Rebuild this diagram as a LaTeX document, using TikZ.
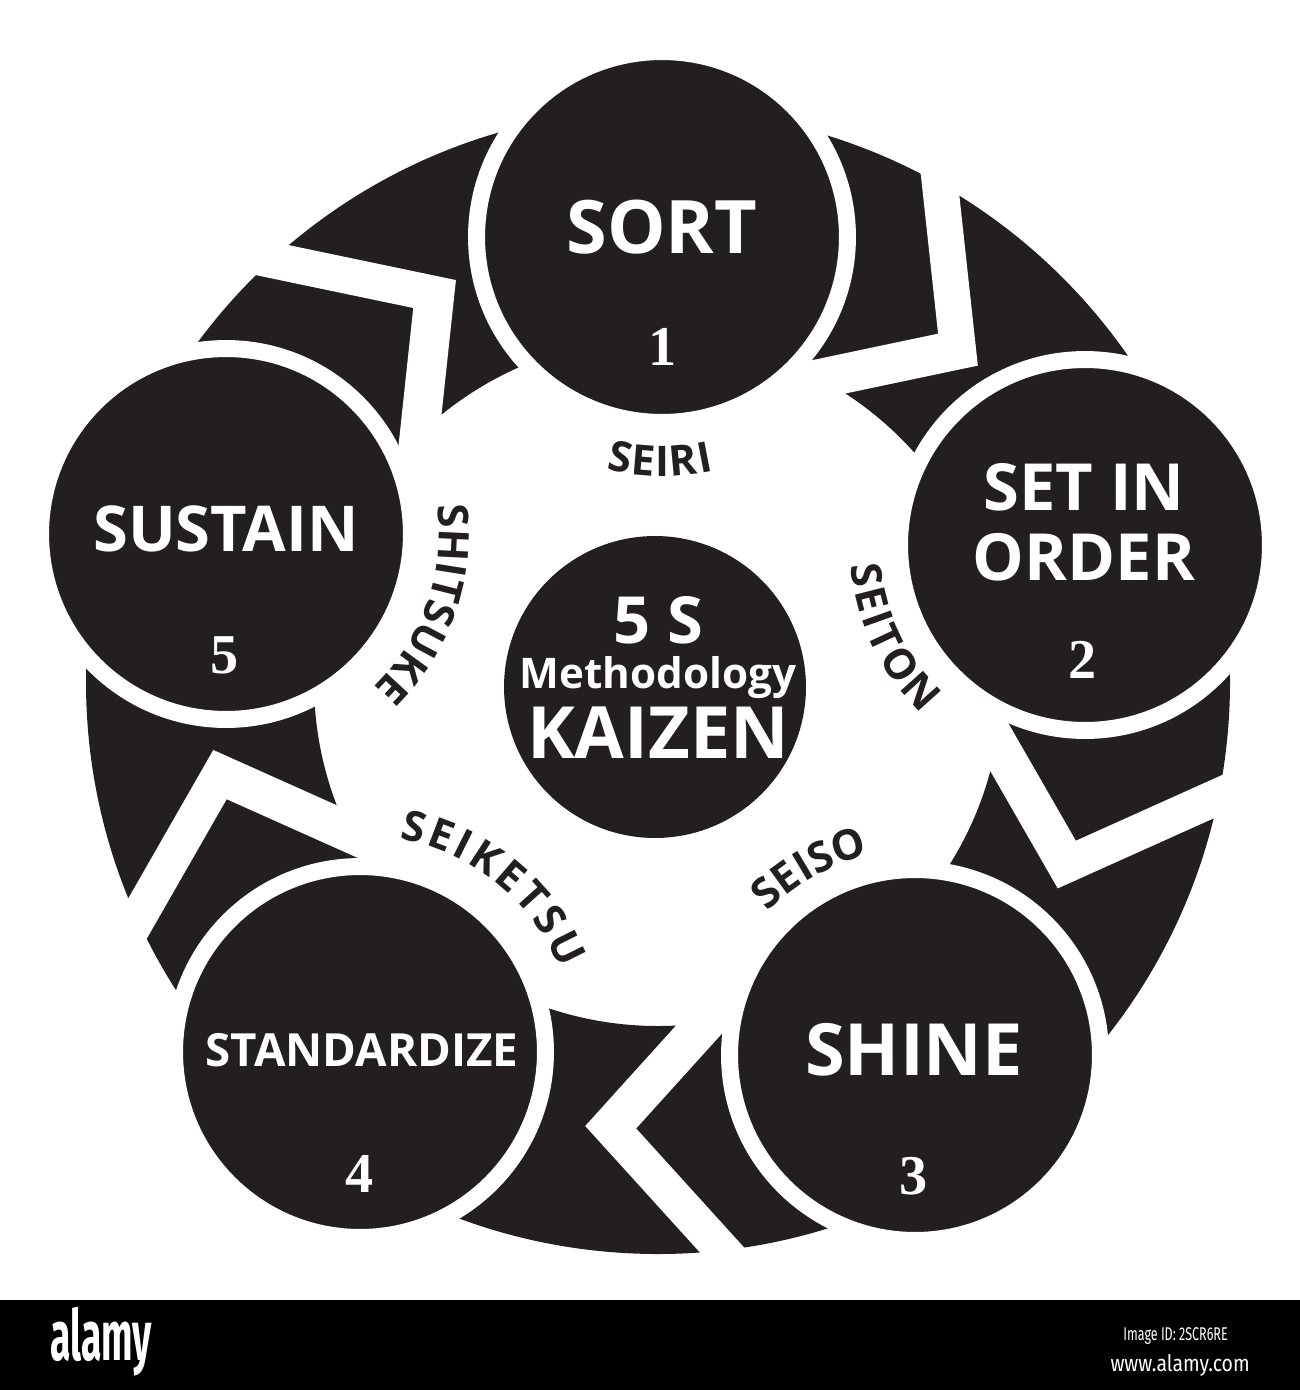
\documentclass[tikz,border=0pt]{standalone}
\usepackage{fontspec}
\usetikzlibrary{decorations.text}
\newfontfamily\osans{Open Sans}
\newfontfamily\lserif{Liberation Serif}
\newfontfamily\fira{Fira Sans}
\definecolor{ink}{HTML}{231F20}
\newcommand\labfont{\osans\bfseries\fontsize{24}{24}\selectfont}
\begin{document}
\begin{tikzpicture}[x=0.02cm,y=0.02cm,
  stage/.style={circle, fill=ink, draw=white, line width=0.34cm, minimum size=7.42cm, inner sep=0pt},
  hubstyle/.style={circle, fill=ink, minimum size=6.04cm, inner sep=0pt},
  ttl/.style={text=white, inner sep=0pt, anchor=base},
  num/.style={text=white, font=\lserif\bfseries\fontsize{32}{32}\selectfont, inner sep=0pt, anchor=base},
  gap/.style={fill=white},
  arclabel/.style={decorate, decoration={text along path, text={|\labfont|#1}, text align={fit to path}, text color=ink}}
]
\useasboundingbox (0,0) rectangle (1300,-1390);
\fill[white] (0,0) rectangle (1300,-1390);

% ring
\fill[ink, even odd rule] (658,-682) circle (572) (658,-682) circle (344);

% chevron gaps
\foreach \a in {51.2,-20.8,-92.8,-164.8,123.2}{
  \fill[gap, shift={(658,-682)}, rotate=\a] (600,153) -- (447,0) -- (320,104) -- (320,53) -- (447,-51) -- (600,102) -- cycle;
}

% stage circles
\node (c1) [stage] at (662,-237) {};
\node (c2) [stage] at (1085,-545) {};
\node (c3) [stage] at (915,-1055) {};
\node (c4) [stage] at (360,-1052) {};
\node (c5) [stage] at (226,-534) {};
\node (hub) [hubstyle] at (655,-687) {};

% titles
\node (t1) [ttl, font=\osans\bfseries\fontsize{42}{42}\selectfont] at (662,-253) {SORT};
\node (t2a) [ttl, font=\osans\bfseries\fontsize{37}{37}\selectfont] at (1084,-510) {SET IN};
\node (t2b) [ttl, font=\osans\bfseries\fontsize{37}{37}\selectfont] at (1084,-580) {ORDER};
\node (t3) [ttl, font=\osans\bfseries\fontsize{41}{41}\selectfont] at (914,-1075) {SHINE};
\node (t4) [ttl, font=\osans\bfseries\fontsize{26}{26}\selectfont] at (362,-1066) {STANDARDIZE};
\node (t5) [ttl, font=\osans\bfseries\fontsize{36}{36}\selectfont] at (226,-551) {SUSTAIN};

% numbers
\node (n1) [num] at (663,-365) {1};
\node (n2) [num] at (1083,-678) {2};
\node (n3) [num] at (914,-1194) {3};
\node (n4) [num] at (360,-1192) {4};
\node (n5) [num] at (225,-673) {5};

% hub text
\node (h1) [ttl, font=\osans\bfseries\fontsize{37}{37}\selectfont] at (658,-643) {5 S};
\node (h2) [ttl, font=\osans\bfseries\fontsize{24}{24}\selectfont] at (658,-688) {Methodology};
\node (h3) [ttl, font=\osans\bfseries\fontsize{41}{41}\selectfont] at (658,-758) {KAIZEN};

% arc labels (each follows its own stage circle)
\path[arclabel={SEIRI}] ([shift={(-103.5:239)}]662,-237) arc[start angle=-103.5, end angle=-77.5, radius=239];
\path[arclabel={SEITON}] ([shift={(185:235)}]1085,-545) arc[start angle=185, end angle=226, radius=235];
\path[arclabel={SEISO}] ([shift={(135.8:205)}]915,-1055) arc[start angle=135.8, end angle=103.2, radius=205];
\path[arclabel={SEIKETSU}] ([shift={(79.4:217)}]360,-1052) arc[start angle=79.4, end angle=22.4, radius=217];
\path[arclabel={SHITSUKE}] ([shift={(7.8:213)}]226,-534) arc[start angle=7.8, end angle=-44.4, radius=213];

% footer bar
\fill[black] (0,-1300) rectangle (1300,-1390);
\node (logo) [text=white, anchor=west, inner sep=0pt, xscale=0.53, font=\fira\bfseries\fontsize{40}{40}\selectfont] at (50,-1342) {alamy};
\node (imgid) [text=white, anchor=east, inner sep=0pt, xscale=0.68, font=\fira\fontsize{10.5}{10.5}\selectfont] at (1228,-1336) {Image ID: 2SCR6RE};
\node (www) [text=white, anchor=east, inner sep=0pt, xscale=0.85, font=\fira\fontsize{13}{13}\selectfont] at (1250,-1365) {www.alamy.com};
\end{tikzpicture}
\end{document}
